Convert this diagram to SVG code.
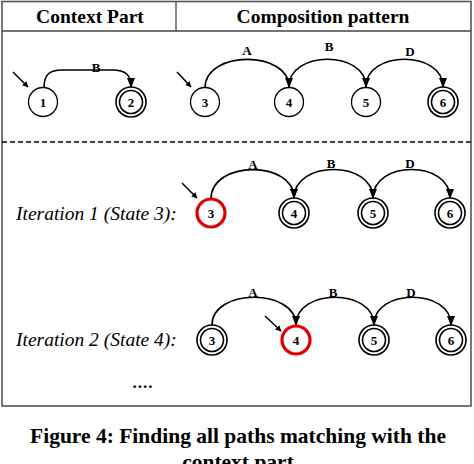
<svg xmlns="http://www.w3.org/2000/svg" width="474" height="464" viewBox="0 0 474 464">
<defs>
<marker id="ah" viewBox="0 0 10 10" refX="9" refY="5" markerWidth="6" markerHeight="6" orient="auto" markerUnits="userSpaceOnUse">
<path d="M0,0 L10,5 L0,10 z" fill="#000"/>
</marker>
<marker id="ah2" viewBox="0 0 10 10" refX="9" refY="5" markerWidth="10" markerHeight="10" orient="auto" markerUnits="userSpaceOnUse">
<path d="M0,1 L10,5 L0,9 z" fill="#000"/>
</marker>
</defs>
<style>
.hdr{font-family:"Liberation Serif","Times New Roman",serif;font-weight:bold;font-size:19.5px;text-anchor:middle;fill:#000}
.cap{font-family:"Liberation Serif","Times New Roman",serif;font-weight:bold;font-size:21.5px;text-anchor:middle;fill:#000}
.it{font-family:"Liberation Serif","Times New Roman",serif;font-style:italic;font-size:19.5px;fill:#000}
.lbl{font-family:"Liberation Serif","Times New Roman",serif;font-weight:bold;font-size:13px;text-anchor:middle;fill:#000}
.num{font-family:"Liberation Serif","Times New Roman",serif;font-weight:bold;font-size:13px;text-anchor:middle;fill:#000}
.st{fill:#fff;stroke:#000;stroke-width:1.3}
.fin{fill:none;stroke:#000;stroke-width:1.6}
.red{fill:#fff;stroke:#e00000;stroke-width:3.2}
.edge{fill:none;stroke:#000;stroke-width:1.6}
.init{fill:none;stroke:#000;stroke-width:1.5}
.frame{fill:none;stroke:#555;stroke-width:1.6}
</style>
<rect width="474" height="464" fill="#fff"/>
<g id="frame">
<rect class="frame" x="2" y="1.5" width="469" height="404.5"/>
<line x1="2" y1="31" x2="471" y2="31" stroke="#444" stroke-width="1.3"/>
<line x1="176" y1="1.5" x2="176" y2="31" stroke="#444" stroke-width="1.3"/>
<line x1="2" y1="142" x2="471" y2="142" stroke="#000" stroke-width="1.4" stroke-dasharray="5,3"/>
</g>
<g id="headers">
<text class="hdr" x="90" y="23">Context Part</text>
<text class="hdr" x="323" y="23">Composition pattern</text>
</g>
<g id="connectors">
<path class="edge" marker-end="url(#ah2)" d="M44,88 C44,74 50,70 62,70 L112,70 C126,70 131,75 131,87"/>
<path class="edge" marker-end="url(#ah2)" d="M205,88 C205,50 289,50 289,87"/>
<path class="edge" marker-end="url(#ah2)" d="M289,87 C289,50 366,50 366,87"/>
<path class="edge" marker-end="url(#ah2)" d="M366,87 C366,50 443,50 443,87"/>
<path class="edge" marker-end="url(#ah2)" d="M211,199 C211,160 294,160 294,198"/>
<path class="edge" marker-end="url(#ah2)" d="M294,198 C294,160 373,160 373,198"/>
<path class="edge" marker-end="url(#ah2)" d="M373,198 C373,160 450,160 450,198"/>
<path class="edge" marker-end="url(#ah2)" d="M212,325 C212,288 296,288 296,325"/>
<path class="edge" marker-end="url(#ah2)" d="M296,325 C296,288 374,288 374,325"/>
<path class="edge" marker-end="url(#ah2)" d="M374,325 C374,288 451,288 451,325"/>
<path class="init" marker-end="url(#ah)" d="M13,72 L28,87"/>
<path class="init" marker-end="url(#ah)" d="M177,72 L191,87"/>
<path class="init" marker-end="url(#ah)" d="M182,183 L197,198"/>
<path class="init" marker-end="url(#ah)" d="M265,316 L281,331"/>
</g>
<g id="edge-labels">
<text class="lbl" x="96" y="72">B</text>
<text class="lbl" x="247" y="55">A</text>
<text class="lbl" x="329" y="51">B</text>
<text class="lbl" x="410" y="56">D</text>
<text class="lbl" x="253" y="169">A</text>
<text class="lbl" x="331" y="168">B</text>
<text class="lbl" x="410" y="168">D</text>
<text class="lbl" x="253" y="297">A</text>
<text class="lbl" x="333" y="297">B</text>
<text class="lbl" x="411" y="297">D</text>
</g>
<g id="n1"><circle class="st" cx="43" cy="102" r="14.5"/><text class="num" x="43" y="106.5">1</text></g>
<g id="n2"><circle class="fin" cx="131" cy="102" r="15"/><circle class="fin" cx="131" cy="102" r="11.5"/><text class="num" x="131" y="106.5">2</text></g>
<g id="n3"><circle class="st" cx="205" cy="102" r="14.5"/><text class="num" x="205" y="106.5">3</text></g>
<g id="n4"><circle class="st" cx="289" cy="102" r="14.5"/><text class="num" x="289" y="106.5">4</text></g>
<g id="n5"><circle class="st" cx="366" cy="102" r="14.5"/><text class="num" x="366" y="106.5">5</text></g>
<g id="n6"><circle class="fin" cx="443" cy="102" r="15"/><circle class="fin" cx="443" cy="102" r="11.5"/><text class="num" x="443" y="106.5">6</text></g>
<g id="it1-label"><text class="it" x="16" y="220">Iteration 1 (State 3):</text></g>
<g id="i1n3"><circle class="red" cx="211" cy="213" r="14"/><text class="num" x="211" y="217.5">3</text></g>
<g id="i1n4"><circle class="fin" cx="294" cy="213" r="15"/><circle class="fin" cx="294" cy="213" r="11.5"/><text class="num" x="294" y="217.5">4</text></g>
<g id="i1n5"><circle class="fin" cx="373" cy="213" r="15"/><circle class="fin" cx="373" cy="213" r="11.5"/><text class="num" x="373" y="217.5">5</text></g>
<g id="i1n6"><circle class="fin" cx="450" cy="213" r="15"/><circle class="fin" cx="450" cy="213" r="11.5"/><text class="num" x="450" y="217.5">6</text></g>
<g id="it2-label"><text class="it" x="16" y="346">Iteration 2 (State 4):</text></g>
<g id="i2n3"><circle class="fin" cx="212" cy="340" r="15"/><circle class="fin" cx="212" cy="340" r="11.5"/><text class="num" x="212" y="344.5">3</text></g>
<g id="i2n4"><circle class="red" cx="296" cy="340" r="14"/><text class="num" x="296" y="344.5">4</text></g>
<g id="i2n5"><circle class="fin" cx="374" cy="340" r="15"/><circle class="fin" cx="374" cy="340" r="11.5"/><text class="num" x="374" y="344.5">5</text></g>
<g id="i2n6"><circle class="fin" cx="451" cy="340" r="15"/><circle class="fin" cx="451" cy="340" r="11.5"/><text class="num" x="451" y="344.5">6</text></g>
<g id="dots"><text class="lbl" x="143" y="388" style="font-size:17px;letter-spacing:1px">....</text></g>
<g id="caption">
<text class="cap" x="238" y="443">Figure 4: Finding all paths matching with the</text>
<text class="cap" x="238" y="469">context part</text>
</g>
</svg>
